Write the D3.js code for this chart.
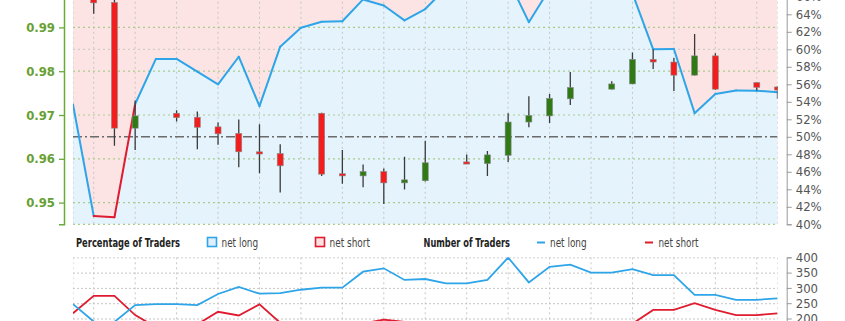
<!DOCTYPE html>
<html><head><meta charset="utf-8">
<script src="https://cdn.jsdelivr.net/npm/d3@7"></script>
<style>
html,body{margin:0;padding:0;background:#fff;}
svg{display:block;}
text{font-family:"Liberation Sans Narrow","DejaVu Sans Condensed",Roboto,sans-serif;}
</style></head><body>
<svg id="chart" width="845" height="321"></svg>
<script>
// ---- data (day index 0..34) ----
const days = d3.range(35);
const pctLong = [53.7,40.95,40.8,53.75,58.9,58.9,57.45,56.0,59.15,53.5,60.3,62.47,63.15,63.2,65.7,65.0,63.3,64.6,67.0,68.5,69.0,68.0,63.1,66.9,68.0,67.5,67.5,66.4,60.0,60.03,52.7,54.9,55.3,55.27,55.1];
const openP  = [0.9985,0.9975,0.9957,0.9670,null,0.9704,0.9695,0.9673,0.9658,0.9616,0.9612,null,0.9704,0.9566,0.9561,0.9571,0.9545,0.9550,null,0.9593,0.9589,0.9608,0.9684,0.9698,0.9737,null,0.9759,0.9771,0.9827,0.9821,0.9791,0.9835,null,0.9774,0.9764];
const highP  = [0.9992,0.9982,0.9968,0.9733,null,0.9711,0.9708,0.9683,0.9690,0.9679,0.9633,null,0.9705,0.9620,0.9587,0.9578,0.9605,0.9641,null,0.9610,0.9618,0.9704,0.9743,0.9748,0.9798,null,0.9777,0.9843,0.9850,0.9830,0.9885,0.9841,null,0.9774,0.9766];
const lowP   = [0.9968,0.9931,0.9630,0.9620,null,0.9685,0.9622,0.9632,0.9581,0.9567,0.9523,null,0.9561,0.9543,0.9535,0.9497,0.9530,0.9548,null,0.9588,0.9561,0.9593,0.9672,0.9682,0.9723,null,0.9758,0.9770,0.9805,0.9755,0.9790,0.9757,null,0.9756,0.9737];
const closeP = [0.9975,0.9956,0.9670,0.9698,null,0.9694,0.9672,0.9657,0.9616,0.9611,0.9584,null,0.9565,0.9561,0.9571,0.9545,0.9552,0.9591,null,0.9588,0.9609,0.9684,0.9699,0.9738,0.9763,null,0.9771,0.9827,0.9821,0.9791,0.9835,0.9759,null,0.9763,0.9757];
const tradersLong  = [247,190,189,244,247,247,244,280,303,281,283,294,301,301,353,364,326,329,315,315,326,399,318,369,376,350,350,361,342,342,277,277,261,261,266];
const tradersShort = [217,274,274,211,172,172,181,222,210,246,186,177,176,175,184,196,189,180,155,145,146,188,186,182,177,168,168,183,228,228,250,228,211,211,217];
const priceTicks = [0.95,0.96,0.97,0.98,0.99];
const pctTicks = d3.range(40,71,2);
const countTicks = [150,200,250,300,350,400];

// ---- layout ----
const svg = d3.select("#chart");
const L = 73, R = 777.5;
const top1 = -38.2, bot1 = 224.3;
const top2 = 257.3, bot2 = 333.8;
const axR = 786.7, axLeft = 64;

const x = d3.scaleLinear().domain([0,34]).range([L,R]);
const yPct = d3.scaleLinear().domain([40,70]).range([bot1,top1]);
const yPrice = d3.scaleLinear().domain([0.94505,1.00498]).range([bot1,top1]);
const yCnt = d3.scaleLinear().domain([150,400]).range([bot2,top2]);

const C = {blue:"#2ea5e8", red:"#e01b2f", pink:"#fce4e5", lblue:"#e5f3fc",
  candleRed:"#f41d1d", candleGreen:"#2f7a14", grid:"#c6c6c6", ggrid:"#a9cc8c"};

const defs = svg.append("defs");
defs.append("clipPath").attr("id","c1").append("rect").attr("x",L).attr("y",top1).attr("width",R-L).attr("height",bot1-top1);
defs.append("clipPath").attr("id","c2").append("rect").attr("x",L).attr("y",top2).attr("width",R-L).attr("height",bot2-top2);

// ---- main panel ----
const g1 = svg.append("g").attr("clip-path","url(#c1)");
g1.append("rect").attr("x",L).attr("y",top1).attr("width",R-L).attr("height",bot1-top1).attr("fill",C.pink);
g1.append("path").datum(days)
  .attr("d", d3.area().x(i=>x(i)).y0(bot1).y1(i=>yPct(pctLong[i])))
  .attr("fill",C.lblue);

// grid
const vIdx = days.filter(i=>i%2===1).concat([0,34]);
g1.selectAll(".vg").data(vIdx).join("line")
  .attr("x1",i=>x(i)).attr("x2",i=>x(i)).attr("y1",top1).attr("y2",bot1)
  .attr("stroke",C.grid).attr("stroke-dasharray","2,3").attr("stroke-width",1);
g1.selectAll(".hg").data(priceTicks).join("line")
  .attr("x1",L).attr("x2",R).attr("y1",d=>yPrice(d)).attr("y2",d=>yPrice(d))
  .attr("stroke",C.ggrid).attr("stroke-dasharray","2,3").attr("stroke-width",1.2);
g1.selectAll(".hg2").data([60,70]).join("line")
  .attr("x1",L).attr("x2",R).attr("y1",d=>yPct(d)).attr("y2",d=>yPct(d))
  .attr("stroke",C.grid).attr("stroke-dasharray","2,3").attr("stroke-width",1);
svg.append("line").attr("x1",L).attr("x2",R).attr("y1",bot1).attr("y2",bot1)
  .attr("stroke",C.ggrid).attr("stroke-dasharray","2,3").attr("stroke-width",1.2);

// 50% reference
g1.append("line").attr("x1",L).attr("x2",R).attr("y1",yPct(50)).attr("y2",yPct(50))
  .attr("stroke","#6b6b6b").attr("stroke-width",1.6).attr("stroke-dasharray","9,3,2,3");

// sentiment line: segment coloured by start point
const segs = days.slice(0,-1).map(i=>({a:i,b:i+1,col: pctLong[i]<50?C.red:C.blue}));
g1.selectAll(".seg").data(segs).join("line")
  .attr("x1",d=>x(d.a)).attr("y1",d=>yPct(pctLong[d.a]))
  .attr("x2",d=>x(d.b)).attr("y2",d=>yPct(pctLong[d.b]))
  .attr("stroke",d=>d.col).attr("stroke-width",2).attr("stroke-linecap","round");

// candles
const candles = days.filter(i=>openP[i]!==null);
const cw = 6;
g1.selectAll(".wick").data(candles).join("line")
  .attr("x1",i=>x(i)).attr("x2",i=>x(i))
  .attr("y1",i=>yPrice(highP[i])).attr("y2",i=>yPrice(lowP[i]))
  .attr("stroke","#3a3a3a").attr("stroke-width",1.3);
g1.selectAll(".body").data(candles).join("rect")
  .attr("x",i=>x(i)-cw/2)
  .attr("y",i=>yPrice(Math.max(openP[i],closeP[i])))
  .attr("width",cw)
  .attr("height",i=>Math.max(2.2, Math.abs(yPrice(openP[i])-yPrice(closeP[i]))))
  .attr("fill",i=>closeP[i]>=openP[i]?C.candleGreen:C.candleRed)
  .attr("stroke","#8a8a8a").attr("stroke-width",0.6);

// left axis (price)
const axL = svg.append("g").attr("transform",`translate(${axLeft},0)`)
  .call(d3.axisLeft(yPrice).tickValues(priceTicks).tickFormat(d3.format(".2f")).tickSize(5).tickPadding(4));
axL.select(".domain").attr("stroke","#6aaa3a").attr("stroke-width",1.5);
axL.selectAll(".tick line").attr("stroke","#6aaa3a").attr("stroke-width",1.3);
axL.selectAll(".tick text").attr("fill","#67a033").attr("font-size",13).attr("font-weight","bold")
  .style("font-family",'"Liberation Sans Narrow","DejaVu Sans Condensed",sans-serif');

// right axis (pct)
const axP = svg.append("g").attr("transform",`translate(${axR},0)`)
  .call(d3.axisRight(yPct).tickValues(pctTicks).tickFormat(d=>d+"%").tickSize(5).tickPadding(4));
axP.select(".domain").attr("stroke","#9a9a9a");
axP.selectAll(".tick line").attr("stroke","#9a9a9a");
axP.selectAll(".tick text").attr("fill","#555").attr("font-size",13)
  .style("font-family",'"Liberation Sans Narrow","DejaVu Sans Condensed",sans-serif');

// ---- legend ----
const lg = svg.append("g").attr("font-size",12.5);
function lt(xp, txt, w, bold){
  lg.append("text").attr("x",xp).attr("y",246.5)
    .attr("fill", bold ? "#222" : "#444")
    .attr("font-weight", bold ? "bold" : "normal")
    .attr("font-size", bold ? 12 : 12.5)
    .attr("textLength", w).attr("lengthAdjust","spacingAndGlyphs")
    .text(txt);
}
lt(76, "Percentage of Traders", 104, true);
lg.append("rect").attr("x",207.5).attr("y",237.5).attr("width",9).attr("height",9).attr("fill","#def0fb").attr("stroke",C.blue).attr("stroke-width",1.6);
lt(221.5, "net long", 36.6, false);
lg.append("rect").attr("x",315.5).attr("y",237.5).attr("width",9).attr("height",9).attr("fill","#fbe0e2").attr("stroke",C.red).attr("stroke-width",1.6);
lt(329.5, "net short", 40.5, false);
lt(423.5, "Number of Traders", 86.5, true);
lg.append("line").attr("x1",537).attr("x2",545).attr("y1",242.5).attr("y2",242.5).attr("stroke",C.blue).attr("stroke-width",2);
lt(550, "net long", 36.6, false);
lg.append("line").attr("x1",645).attr("x2",653).attr("y1",242.5).attr("y2",242.5).attr("stroke",C.red).attr("stroke-width",2);
lt(658.5, "net short", 40, false);

// ---- bottom panel ----
const g2 = svg.append("g").attr("clip-path","url(#c2)");
g2.selectAll(".vg").data(vIdx).join("line")
  .attr("x1",i=>x(i)).attr("x2",i=>x(i)).attr("y1",top2).attr("y2",bot2)
  .attr("stroke",C.grid).attr("stroke-dasharray","2,3");
g2.selectAll(".hg").data(countTicks).join("line")
  .attr("x1",L).attr("x2",R).attr("y1",d=>yCnt(d)+0.5).attr("y2",d=>yCnt(d)+0.5)
  .attr("stroke",C.grid).attr("stroke-dasharray","2,2");
g2.append("path").datum(days).attr("d",d3.line().x(i=>x(i)).y(i=>yCnt(tradersShort[i])))
  .attr("fill","none").attr("stroke",C.red).attr("stroke-width",1.8);
g2.append("path").datum(days).attr("d",d3.line().x(i=>x(i)).y(i=>yCnt(tradersLong[i])))
  .attr("fill","none").attr("stroke",C.blue).attr("stroke-width",1.8);

const axC = svg.append("g").attr("transform",`translate(${axR},0)`)
  .call(d3.axisRight(yCnt).tickValues(countTicks).tickSize(5).tickPadding(4));
axC.select(".domain").attr("stroke","#9a9a9a");
axC.selectAll(".tick line").attr("stroke","#9a9a9a");
axC.selectAll(".tick text").attr("fill","#555").attr("font-size",13)
  .style("font-family",'"Liberation Sans Narrow","DejaVu Sans Condensed",sans-serif');
</script>
</body></html>
